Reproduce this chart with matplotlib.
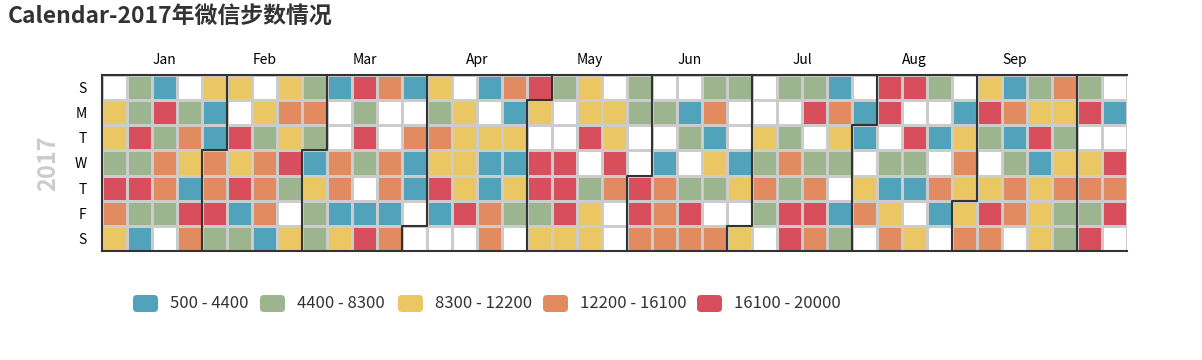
import datetime as dt
import numpy as np
import matplotlib.pyplot as plt
from matplotlib.colors import ListedColormap, BoundaryNorm
from matplotlib.patches import FancyBboxPatch

plt.rcParams['font.family'] = ['Noto Sans CJK SC', 'DejaVu Sans']

title = "Calendar-2017年微信步数情况"
year = 2017
start = dt.date(2017, 1, 1)   # a Sunday, first column
n_weeks = 41

# step band of every day, one string per weekday (one char per week column)
# W = no value, B/G/Y/O/R = the five bands of the legend
sun = "WGBWYYWYG" "BROBYWBO" "RGYWGWWG" "GWGGBWRR" "GWYBGOGW"
mon = "YGRGBWYOO" "WGWWGYWB" "YWYYGGBO" "WWWROBRW" "WBROYYRB"
tue = "YRGOBRGYG" "WRWOOYYY" "WWRYWWGB" "WYGWYBWR" "BYGBRGWW"
wed = "GGOYOYORB" "OGOBYYBB" "RRWRWBWY" "BGOGGWGG" "WOWGBYYR"
thu = "RROBOROGY" "OWOBRYBY" "RRGOROGG" "YOGOWYBB" "OYYOYOOO"
fri = "OGGRRBOWG" "BBBWBROG" "GRYWRORW" "WGRRBOYW" "BYROYGGR"
sat = "YBWOGGBYG" "YROWWWOW" "YYYWOOOO" "YWROGWOY" "WOOWYGRW"

day_labels = ["S", "M", "T", "W", "T", "F", "S"]
month_names = ["Jan", "Feb", "Mar", "Apr", "May", "Jun", "Jul", "Aug", "Sep"]
band_codes = ["B", "G", "Y", "O", "R"]
band_labels = ["500 - 4400", "4400 - 8300", "8300 - 12200", "12200 - 16100", "16100 - 20000"]
band_colors = ["#50a3ba", "#9db58e", "#eac763", "#e38b60", "#d94e5d"]

rows = [sun, mon, tue, wed, thu, fri, sat]
code_idx = {"W": 0}
for i, c in enumerate(band_codes):
    code_idx[c] = i + 1
grid = np.array([[code_idx[c] for c in r] for r in rows])

cmap = ListedColormap(["#ffffff"] + band_colors)
norm = BoundaryNorm(np.arange(-0.5, 6.5, 1), cmap.N)

W, H = 1202, 360
fig = plt.figure(figsize=(W / 100, H / 100), dpi=100)

# calendar grid
gl, gr, gt, gb = 102, 1127, 75, 251
ax = fig.add_axes([gl / W, 1 - gb / H, (gr - gl) / W, (gb - gt) / H])
ax.pcolormesh(np.arange(n_weeks + 1), np.arange(8), grid, cmap=cmap, norm=norm,
              edgecolors="#cccccc", linewidth=1)
ax.set_xlim(0, n_weeks)
ax.set_ylim(7, 0)

line_kw = dict(color="#333333", lw=1.5, solid_capstyle="projecting", clip_on=False)
for m in range(2, 11):
    d = (dt.date(year, m, 1) - start).days
    c, w = d // 7, d % 7
    if w == 0:
        ax.plot([c, c], [0, 7], **line_kw)
    else:
        ax.plot([c + 1, c + 1, c, c], [0, w, w, 7], **line_kw)
ax.plot([0, 0], [0, 7], **line_kw)
ax.plot([0, n_weeks], [0, 0], **line_kw)
ax.plot([0, n_weeks], [7, 7], **line_kw)
for s in ax.spines.values():
    s.set_visible(False)

# month labels centred over the weeks each month covers
centers = []
for m in range(1, len(month_names) + 1):
    first = (dt.date(year, m, 1) - start).days // 7
    last = (dt.date(year, m + 1, 1) - dt.timedelta(days=1) - start).days // 7
    centers.append((first + last + 1) / 2)
ax.xaxis.tick_top()
ax.set_xticks(centers)
ax.set_xticklabels(month_names, fontsize=10, color="#000000")
ax.set_yticks(np.arange(7) + 0.5)
ax.set_yticklabels(day_labels, fontsize=10, color="#000000")
ax.tick_params(length=0)
ax.tick_params(axis="x", pad=6)
ax.tick_params(axis="y", pad=11)

# overlay in pixel units for title, year label and legend
ov = fig.add_axes([0, 0, 1, 1])
ov.set_xlim(0, W)
ov.set_ylim(H, 0)
ov.axis("off")
ov.text(8, 16, title, fontsize=16.5, fontweight="bold", color="#333333",
        ha="left", va="center")
ov.text(48, (gt + gb) / 2, str(year), fontsize=17, fontweight="bold", color="#cccccc",
        rotation=90, ha="center", va="center")

leg_x = [133, 260, 398, 543, 697]
for x, lab, col in zip(leg_x, band_labels, band_colors):
    ov.add_patch(FancyBboxPatch((x + 1, 295 + 1), 23, 15,
                                boxstyle="round,pad=1,rounding_size=4",
                                fc=col, ec="none"))
    ov.text(x + 37, 303, lab, fontsize=12, color="#333333", ha="left", va="center")

fig.savefig("out.png", dpi=100)
